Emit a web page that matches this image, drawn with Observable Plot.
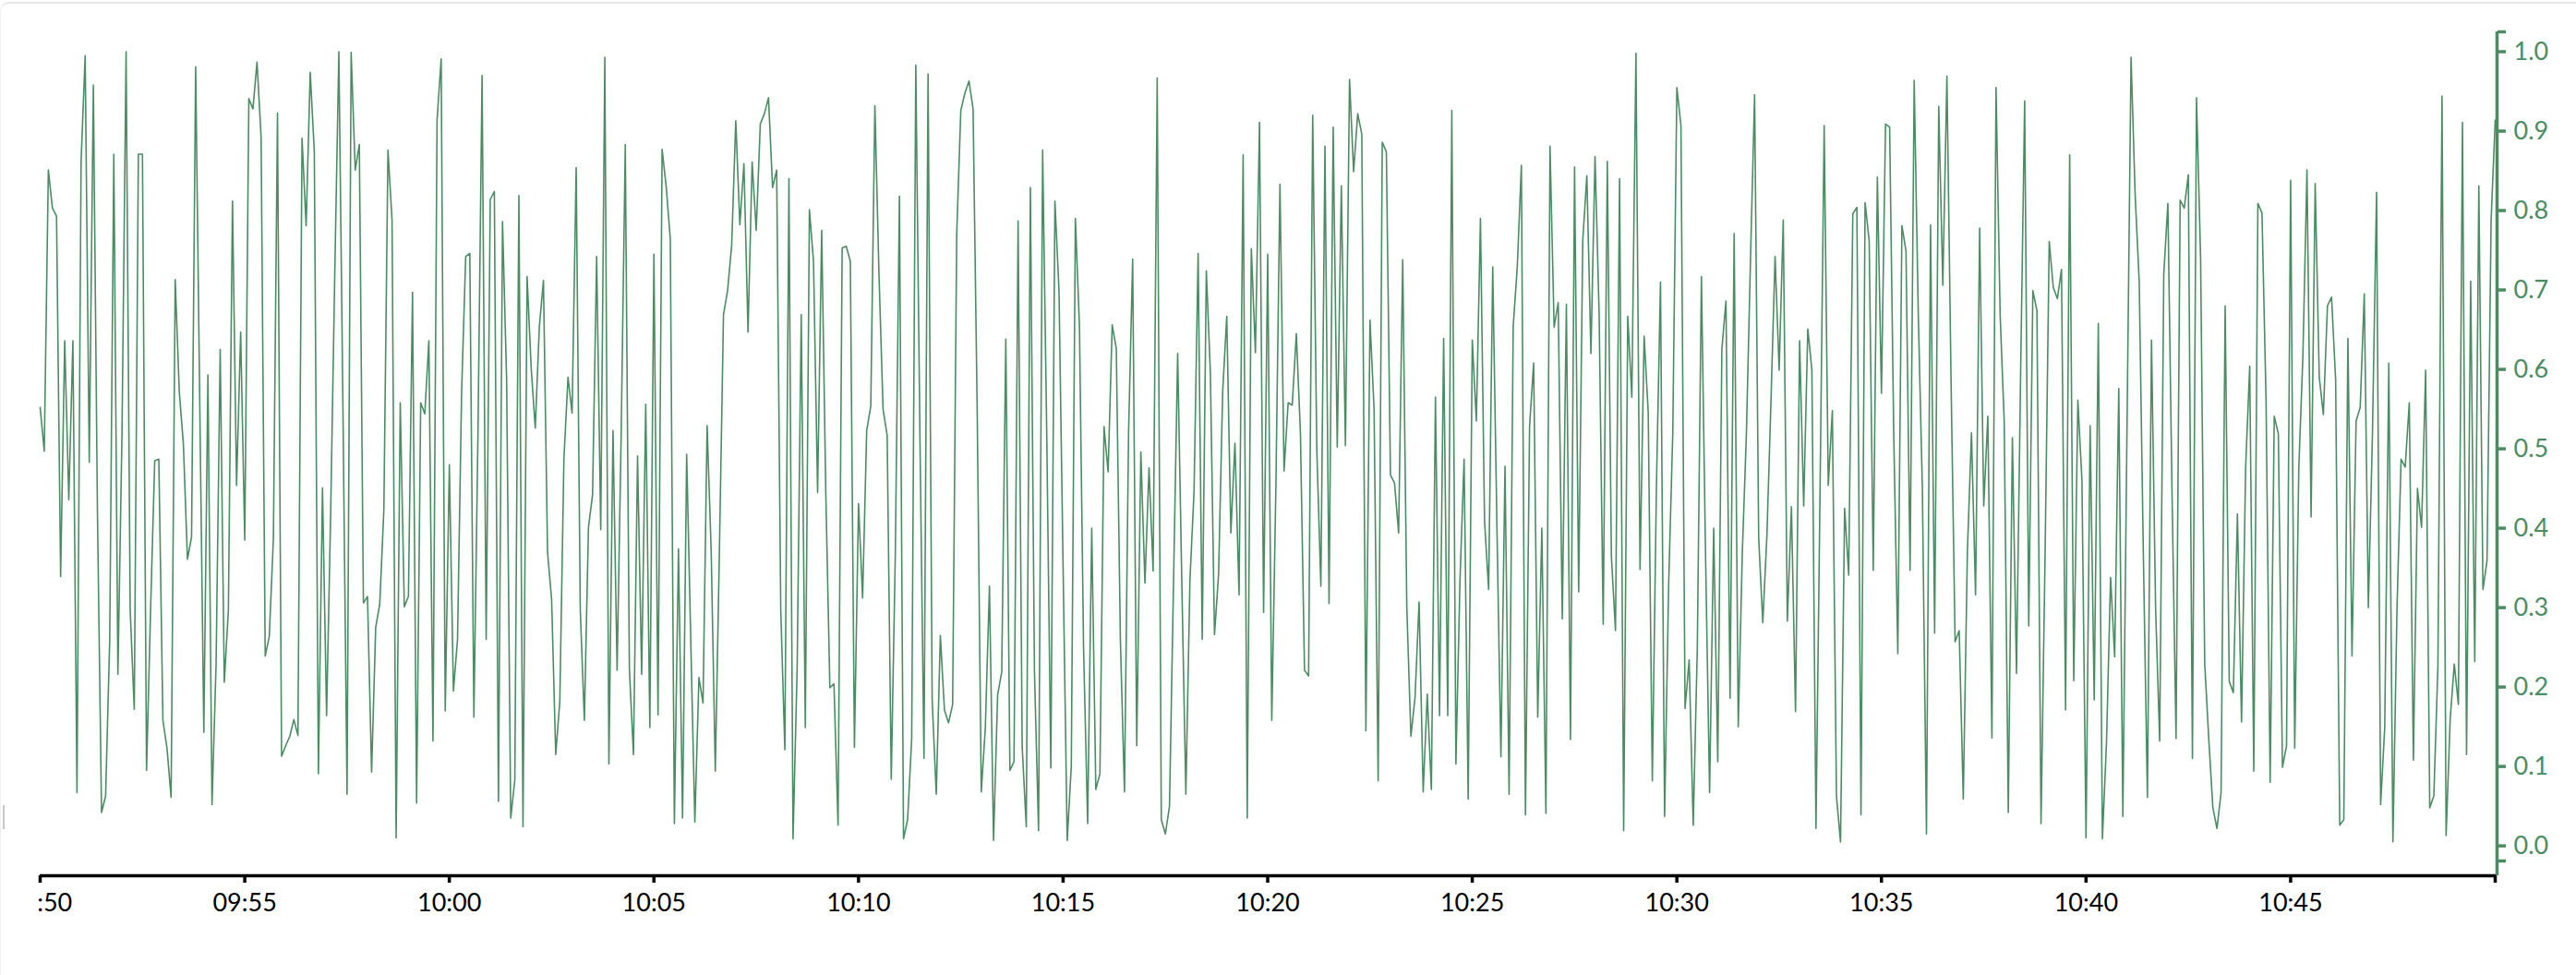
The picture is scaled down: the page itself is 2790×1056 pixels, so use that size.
<!DOCTYPE html>
<html>
<head>
<meta charset="utf-8">
<script src="https://cdn.jsdelivr.net/npm/d3@7"></script>
<script src="https://cdn.jsdelivr.net/npm/@observablehq/plot@0.6"></script>
<style>
  html, body { margin: 0; padding: 0; background: #fff; width: 2790px; height: 1056px; overflow: hidden; }
  #card { position: absolute; left: 0; top: 2px; width: 3000px; height: 1300px; border-top: 2px solid #e6e6e6; border-left: 1px solid #f0f0f0; border-top-left-radius: 10px; box-sizing: border-box; }
  #handle { position: absolute; left: 3px; top: 872px; width: 2px; height: 26px; background: #c8c8c8; }
  #chart { position: absolute; left: 40px; top: 0; }
  #chart svg { overflow: hidden; }
  #chart [aria-label^="x-axis"] path, #chart [aria-label^="x-axis"] line { stroke: #000; stroke-width: 3.5px; }
  #chart [aria-label^="x-axis"] text { fill: #000; }
  #chart [aria-label^="y-axis"] path, #chart [aria-label^="y-axis"] line { stroke: #4c8c63; stroke-width: 3.5px; }
  #chart [aria-label^="y-axis"] text { fill: #4c8c63; }
</style>
</head>
<body>
<div id="card"></div>
<div id="handle"></div>
<div id="chart"></div>
<script>
// --- data -------------------------------------------------------------
const startTime = "09:50:00";      // first sample
const stepSeconds = 6;             // one sample every 6 s
const values = [
  0.552, 0.497, 0.851, 0.803, 0.793, 0.339, 0.636, 0.436, 0.636, 0.067,
  0.862, 0.995, 0.483, 0.958, 0.42, 0.042, 0.063, 0.26, 0.871, 0.216,
  0.52, 1.0, 0.297, 0.172, 0.871, 0.871, 0.095, 0.30, 0.485, 0.487,
  0.158, 0.123, 0.061, 0.713, 0.572, 0.506, 0.361, 0.389, 0.981, 0.56,
  0.143, 0.593, 0.052, 0.23, 0.625, 0.206, 0.297, 0.812, 0.454, 0.647,
  0.385, 0.941, 0.928, 0.987, 0.892, 0.239, 0.264, 0.387, 0.923, 0.113,
  0.126, 0.138, 0.159, 0.139, 0.891, 0.781, 0.974, 0.874, 0.091, 0.451,
  0.164, 0.42, 0.72, 1.0, 0.55, 0.065, 0.999, 0.851, 0.883, 0.306,
  0.314, 0.093, 0.275, 0.305, 0.424, 0.876, 0.788, 0.01, 0.558, 0.301,
  0.314, 0.697, 0.054, 0.558, 0.544, 0.636, 0.132, 0.914, 0.991, 0.17,
  0.48, 0.195, 0.26, 0.572, 0.742, 0.746, 0.162, 0.52, 0.97, 0.26,
  0.814, 0.824, 0.056, 0.786, 0.587, 0.035, 0.083, 0.819, 0.024, 0.717,
  0.602, 0.526, 0.654, 0.712, 0.37, 0.31, 0.115, 0.182, 0.487, 0.59,
  0.545, 0.854, 0.297, 0.158, 0.401, 0.442, 0.742, 0.398, 0.993, 0.103,
  0.523, 0.221, 0.52, 0.883, 0.223, 0.115, 0.491, 0.216, 0.556, 0.149,
  0.745, 0.165, 0.877, 0.83, 0.764, 0.028, 0.374, 0.035, 0.493, 0.26,
  0.03, 0.212, 0.18, 0.529, 0.37, 0.094, 0.37, 0.669, 0.699, 0.756,
  0.913, 0.782, 0.859, 0.647, 0.861, 0.775, 0.909, 0.922, 0.942, 0.829,
  0.851, 0.297, 0.121, 0.84, 0.009, 0.223, 0.669, 0.149, 0.801, 0.736,
  0.445, 0.775, 0.446, 0.199, 0.204, 0.026, 0.753, 0.755, 0.736, 0.124,
  0.431, 0.312, 0.523, 0.554, 0.932, 0.72, 0.55, 0.517, 0.084, 0.37,
  0.818, 0.009, 0.033, 0.135, 0.983, 0.52, 0.11, 0.972, 0.184, 0.065,
  0.265, 0.171, 0.155, 0.178, 0.77, 0.926, 0.948, 0.963, 0.928, 0.55,
  0.068, 0.149, 0.327, 0.007, 0.19, 0.219, 0.638, 0.095, 0.106, 0.787,
  0.125, 0.024, 0.829, 0.22, 0.019, 0.876, 0.52, 0.098, 0.812, 0.699,
  0.35, 0.007, 0.1, 0.79, 0.654, 0.25, 0.028, 0.4, 0.071, 0.091,
  0.528, 0.471, 0.656, 0.626, 0.26, 0.068, 0.52, 0.739, 0.126, 0.496,
  0.331, 0.476, 0.346, 0.967, 0.033, 0.015, 0.05, 0.335, 0.62, 0.335,
  0.065, 0.335, 0.446, 0.746, 0.26, 0.724, 0.595, 0.266, 0.342, 0.572,
  0.667, 0.394, 0.507, 0.316, 0.87, 0.035, 0.752, 0.621, 0.911, 0.294,
  0.745, 0.158, 0.45, 0.833, 0.472, 0.558, 0.555, 0.645, 0.52, 0.221,
  0.214, 0.92, 0.5, 0.327, 0.881, 0.305, 0.905, 0.502, 0.831, 0.504,
  0.965, 0.849, 0.922, 0.896, 0.145, 0.662, 0.55, 0.082, 0.886, 0.874,
  0.467, 0.457, 0.394, 0.738, 0.3, 0.138, 0.186, 0.307, 0.068, 0.191,
  0.071, 0.565, 0.164, 0.639, 0.164, 0.926, 0.103, 0.335, 0.487, 0.059,
  0.637, 0.535, 0.79, 0.409, 0.323, 0.729, 0.41, 0.112, 0.478, 0.065,
  0.654, 0.729, 0.857, 0.039, 0.528, 0.608, 0.162, 0.4, 0.041, 0.881,
  0.653, 0.684, 0.286, 0.682, 0.134, 0.855, 0.32, 0.762, 0.844, 0.62,
  0.868, 0.67, 0.279, 0.862, 0.364, 0.271, 0.84, 0.019, 0.667, 0.565,
  0.998, 0.348, 0.642, 0.546, 0.082, 0.45, 0.71, 0.037, 0.33, 0.52,
  0.955, 0.907, 0.173, 0.234, 0.026, 0.25, 0.717, 0.37, 0.067, 0.4,
  0.106, 0.626, 0.686, 0.186, 0.771, 0.15, 0.37, 0.52, 0.74, 0.946,
  0.387, 0.281, 0.39, 0.56, 0.742, 0.599, 0.788, 0.283, 0.427, 0.169,
  0.636, 0.428, 0.651, 0.599, 0.022, 0.45, 0.907, 0.454, 0.548, 0.063,
  0.005, 0.425, 0.341, 0.796, 0.804, 0.039, 0.81, 0.762, 0.347, 0.842,
  0.57, 0.909, 0.905, 0.52, 0.242, 0.781, 0.749, 0.347, 0.964, 0.67,
  0.45, 0.015, 0.782, 0.268, 0.931, 0.706, 0.969, 0.59, 0.257, 0.271,
  0.059, 0.37, 0.52, 0.316, 0.778, 0.428, 0.541, 0.136, 0.955, 0.67,
  0.535, 0.042, 0.514, 0.217, 0.59, 0.938, 0.277, 0.699, 0.674, 0.028,
  0.37, 0.761, 0.703, 0.689, 0.726, 0.171, 0.87, 0.208, 0.561, 0.46,
  0.01, 0.529, 0.184, 0.658, 0.009, 0.13, 0.338, 0.238, 0.576, 0.037,
  0.52, 0.993, 0.82, 0.71, 0.37, 0.061, 0.637, 0.3, 0.132, 0.72,
  0.809, 0.45, 0.135, 0.813, 0.803, 0.845, 0.11, 0.942, 0.74, 0.23,
  0.134, 0.048, 0.022, 0.067, 0.68, 0.207, 0.193, 0.418, 0.156, 0.476,
  0.604, 0.094, 0.809, 0.797, 0.56, 0.08, 0.541, 0.519, 0.099, 0.126,
  0.838, 0.123, 0.476, 0.617, 0.851, 0.414, 0.834, 0.59, 0.543, 0.68,
  0.691, 0.587, 0.026, 0.033, 0.639, 0.239, 0.535, 0.552, 0.695, 0.3,
  0.52, 0.823, 0.052, 0.149, 0.608, 0.005, 0.3, 0.487, 0.477, 0.558,
  0.108, 0.45, 0.401, 0.599, 0.048, 0.063, 0.227, 0.944, 0.013, 0.16,
  0.229, 0.178, 0.911, 0.115, 0.711, 0.232, 0.831, 0.323, 0.359, 0.788,
  0.914
];
const xTickTimes = ["09:50","09:55","10:00","10:05","10:10","10:15","10:20","10:25","10:30","10:35","10:40","10:45","10:50"];
const yTicks = [0, 0.1, 0.2, 0.3, 0.4, 0.5, 0.6, 0.7, 0.8, 0.9, 1.0];
const yDomain = [-0.019, 1.025];
const lineColor = "#4c8c63";

// --- build ------------------------------------------------------------
const day = "2024-01-01T";
const t0 = new Date(day + startTime);
const data = values.map((v, i) => ({t: new Date(t0.getTime() + i * stepSeconds * 1000), v}));
const tStart = data[0].t, tEnd = data[data.length - 1].t;
const xTicks = xTickTimes.map(s => new Date(day + s + ":00"));
const fmt = d3.timeFormat("%H:%M");

const plot = Plot.plot({
  width: 2750,
  height: 1056,
  marginLeft: 3,
  marginRight: 86,
  marginTop: 34,
  marginBottom: 108,
  insetBottom: 16,
  insetRight: 2,
  style: {fontFamily: "Lato, 'Open Sans', sans-serif", fontSize: "27px", background: "transparent", overflow: "hidden"},
  x: {type: "time", domain: [tStart, tEnd], ticks: xTicks,
      tickFormat: d => (+d === +tEnd ? "" : fmt(d)), tickSize: 8, tickPadding: 11, label: null},
  y: {domain: yDomain, axis: "right", ticks: [yDomain[0], ...yTicks, yDomain[1]],
      tickFormat: d => (yTicks.includes(d) ? d.toFixed(1) : ""), tickSize: 9, tickPadding: 9, label: null},
  marks: [
    Plot.ruleY([yDomain[0]], {dy: 16, stroke: "#000", strokeWidth: 3.5}),
    Plot.ruleX([tEnd], {dx: 2, stroke: lineColor, strokeWidth: 3.5}),
    Plot.lineY(data, {x: "t", y: "v", stroke: lineColor, strokeWidth: 1.6})
  ]
});
document.getElementById("chart").appendChild(plot);
</script>
</body>
</html>
